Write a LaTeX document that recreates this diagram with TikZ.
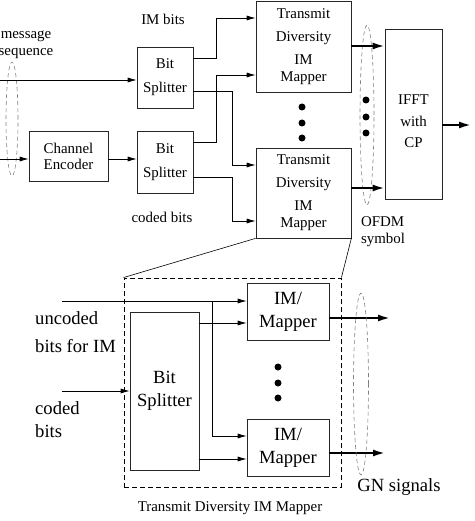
\documentclass[tikz,border=0pt]{standalone}
\usepackage{fontspec}
\setmainfont{Liberation Serif}
\usetikzlibrary{arrows.meta}
\newcommand\fsA{\fontsize{14.9}{17}\selectfont}
\newcommand\fsB{\fontsize{18.6}{23}\selectfont}
\begin{document}
\begin{tikzpicture}[x=1pt,y=-1pt,
  box/.style={draw=black!85, line width=0.7pt, align=center, inner sep=0pt},
  arr/.style={line width=0.7pt, -{Latex[length=9pt,width=5pt]}},
  bigarr/.style={line width=2pt, -{Latex[length=12pt,width=7pt]}},
  dotn/.style={fill, circle, inner sep=0pt, minimum size=7pt},
  ell/.style={draw=gray, dash pattern=on 4pt off 3pt, line width=0.6pt},
  txt/.style={align=center, inner sep=0pt}]
\useasboundingbox (0,0) rectangle (474,521);

% ---------- upper part ----------
\node[box, minimum width=56pt, minimum height=61pt, font=\fsA] (bs1) at (165,77.5) {Bit\\[7pt]Splitter};
\node[box, minimum width=79pt, minimum height=50pt, font=\fsA] (ce) at (68.5,156.5) {Channel\\[-1pt]Encoder};
\node[box, minimum width=56pt, minimum height=62pt, font=\fsA] (bs2) at (165,162) {Bit\\[7pt]Splitter};
\node[box, minimum width=95pt, minimum height=91pt, font=\fsA] (td1) at (303.5,46.5) {Transmit\\[6pt]Diversity\\[6pt]IM\\Mapper};
\node[box, minimum width=95pt, minimum height=90pt, font=\fsA] (td2) at (303.5,193) {Transmit\\[6pt]Diversity\\[6pt]IM\\Mapper};
\node[box, minimum width=57pt, minimum height=170pt] (ifft) at (413.5,114) {};
\node[txt, font=\fsA] (iffttxt) at (413.5,121.5) {IFFT\\[4.5pt]with\\[4.5pt]CP};

\node[txt, font=\fsA] (imbits) at (163,19) {IM bits};
\node[txt, font=\fsA] (msg) at (26,45) {message\\sequence};
\node[txt, font=\fsA] (cb) at (162,217) {coded bits};
\node[txt, font=\fsA, align=left] (ofdm) at (383,232) {OFDM\\symbol};

\draw[ell] (12,119) ellipse [x radius=6pt, y radius=57pt];
\draw[ell] (367,115) ellipse [x radius=7pt, y radius=90pt];

\coordinate (min) at (0,80);
\draw[arr] (min) -- (min -| bs1.west);
\coordinate (cin) at (0,159);
\draw[arr] (cin) -- (cin -| ce.west);
\draw[arr] (ce.east |- cin) -- (bs2.west |- cin);

\draw[arr] (bs1.east |- 0,58) -| (216,18) -- (td1.west |- 0,18);
\draw[arr] (bs1.east |- 0,91) -| (232,165) -- (td2.west |- 0,165);
\draw[arr] (bs2.east |- 0,142) -| (216,75) -- (td1.west |- 0,75);
\draw[arr] (bs2.east |- 0,177) -| (232,221) -- (td2.west |- 0,221);

\draw[bigarr] (td1.east |- 0,46) -- (ifft.west |- 0,46);
\draw[bigarr] (td2.east |- 0,188) -- (ifft.west |- 0,188);
\coordinate (out) at (471,125);
\draw[bigarr] (ifft.east |- out) -- (out);

\node[dotn] (d1) at (302,107) {};
\node[dotn] (d2) at (302,123) {};
\node[dotn] (d3) at (302,138) {};
\node[dotn] (o1) at (366,100) {};
\node[dotn] (o2) at (366,117) {};
\node[dotn] (o3) at (366,133) {};

% ---------- lower part ----------
\node[draw, dash pattern=on 5pt off 3pt, line width=0.9pt, inner sep=0pt,
      minimum width=217pt, minimum height=209pt] (tb) at (232.5,382.5) {};
\draw[line width=0.6pt] (td2.south west) -- (tb.north west);
\draw[line width=0.6pt] (td2.south east) -- (tb.north east);

\node[box, minimum width=69pt, minimum height=158pt, font=\fsB] (bsl) at (164.5,391) {Bit\\Splitter};
\node[box, minimum width=82pt, minimum height=57pt, font=\fsB] (im1) at (288,311.5) {IM/\\Mapper};
\node[box, minimum width=82pt, minimum height=57pt, font=\fsB] (im2) at (288,447.5) {IM/\\Mapper};

\coordinate (uin) at (62,301);
\coordinate (br) at (212,301);
\draw[arr] (uin) -- (uin -| im1.west);
\draw[arr] (br) |- (im2.west |- 0,436);
\draw[arr] (bsl.east |- 0,323) -- (im1.west |- 0,323);
\draw[arr] (bsl.east |- 0,459) -- (im2.west |- 0,459);
\coordinate (cbin) at (62,391);
\draw[arr] (cbin) -- (cbin -| bsl.west);

\coordinate (g1) at (390,318);
\draw[bigarr] (im1.east |- g1) -- (g1);
\coordinate (g2) at (385,453);
\draw[bigarr] (im2.east |- g2) -- (g2);

\draw[ell] (361,384) ellipse [x radius=7.5pt, y radius=91pt];

\node[dotn] (e1) at (278,367) {};
\node[dotn] (e2) at (278,383) {};
\node[dotn] (e3) at (278,398) {};

\node[txt, font=\fsB, align=left, anchor=west] (unc) at (35,332) {uncoded\\[5pt]bits for IM};
\node[txt, font=\fsB, align=left, anchor=west] (cod) at (35,419.5) {coded\\bits};
\node[txt, font=\fsB] (gn) at (399,487) {GN signals};
\node[txt, font=\fsA] (cap) at (230,508) {Transmit Diversity IM Mapper};
\end{tikzpicture}
\end{document}
